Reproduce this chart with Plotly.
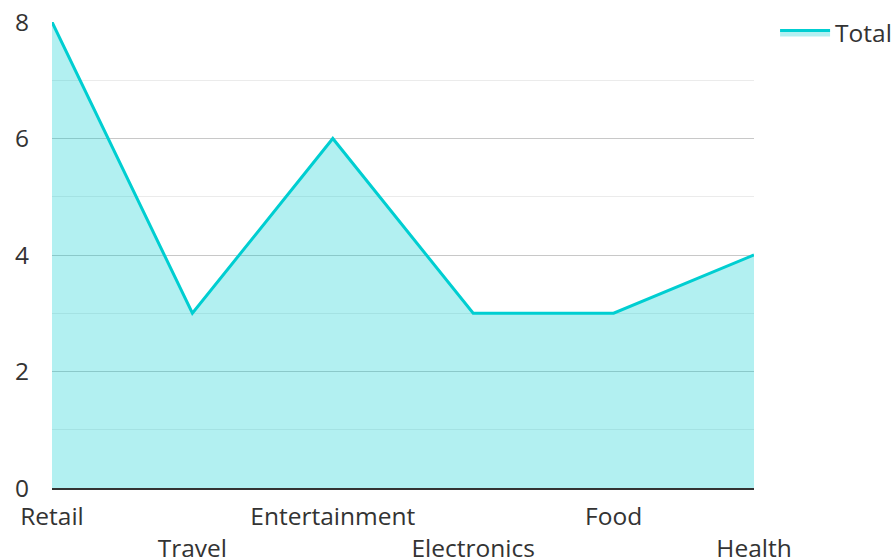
import plotly.graph_objects as go

categories = ["Retail", "Travel", "Entertainment", "Electronics", "Food", "Health"]
values = [8, 3, 6, 3, 3, 4]
series_name = "Total"

ticktext = [c if i % 2 == 0 else "<br>" + c for i, c in enumerate(categories)]

FS = 24.5
fig = go.Figure()
fig.add_trace(go.Scatter(
    x=list(range(len(categories))), y=values, name=series_name,
    mode="lines", fill="tozeroy",
    line=dict(color="#00CED1", width=3),
    fillcolor="rgba(0,206,209,0.3)",
))

fig.update_layout(
    width=895, height=560,
    margin=dict(l=52, r=141, t=22, b=72, autoexpand=False),
    paper_bgcolor="white", plot_bgcolor="white",
    font=dict(family="Open Sans", size=FS, color="#333333"),
    showlegend=True,
    legend=dict(xref="container", yref="container", x=0.866, y=0.982,
                xanchor="left", yanchor="top",
                itemwidth=50, font=dict(size=FS, color="#333333"),
                bgcolor="rgba(0,0,0,0)"),
    xaxis=dict(
        range=[0, len(categories) - 1], automargin=False,
        tickmode="array", tickvals=list(range(len(categories))), ticktext=ticktext,
        tickangle=0,
        showgrid=False, zeroline=False,
        showline=True, linecolor="#333333", linewidth=2,
        ticks="", ticklabelstandoff=6,
        tickfont=dict(size=FS, color="#333333"),
    ),
    yaxis=dict(
        range=[0, 8], tickvals=[0, 2, 4, 6, 8], automargin=False,
        showgrid=True, gridcolor="#C8C8C8", gridwidth=1,
        minor=dict(dtick=1, showgrid=True, gridcolor="#EBEBEB", gridwidth=1),
        zeroline=False, showline=False, ticks="",
        ticklabelstandoff=22,
        tickfont=dict(size=FS, color="#333333"),
        layer="above traces",
    ),
)

fig.write_html("out.html")
